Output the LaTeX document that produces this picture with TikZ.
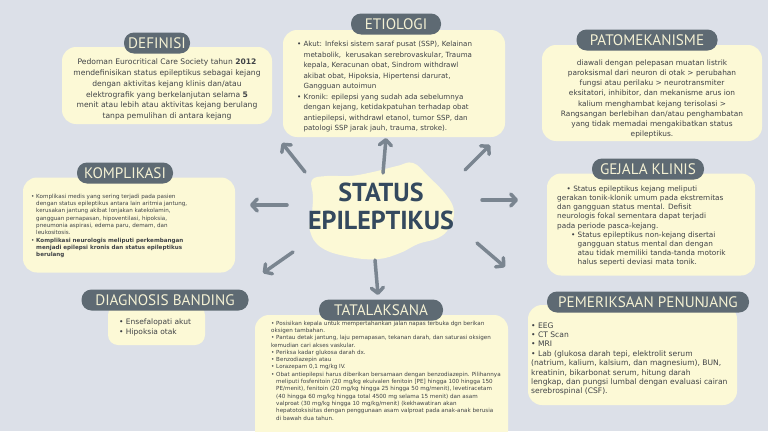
\documentclass[tikz,border=0pt]{standalone}
\usepackage{fontspec}
\usepackage{tikz}
\usetikzlibrary{arrows.meta}
\setmainfont{DejaVu Sans}
\newfontfamily\titlefont{PT Sans}
\definecolor{bgblue}{HTML}{DCE0E8}
\definecolor{boxyellow}{HTML}{FCF9D6}
\definecolor{pillgray}{HTML}{5E6A73}
\definecolor{pilltext}{HTML}{F4F1D4}
\definecolor{inkgray}{HTML}{3F4246}
\definecolor{hubnavy}{HTML}{34495E}
\definecolor{spokegray}{HTML}{7A8590}
\newcommand{\itemdot}{\makebox[0.9em][l]{\textbullet}}
\newcommand{\itemgap}{\hspace*{0.9em}}
\tikzstyle{box}=[rectangle, rounded corners=14pt, fill=boxyellow, inner sep=0pt]
\tikzstyle{pill}=[rectangle, rounded corners=10pt, fill=pillgray, text=pilltext, minimum height=21pt, inner xsep=0pt, font=\titlefont\fontsize{15.2}{15}\selectfont]
\tikzstyle{body}=[text=inkgray, inner sep=0pt]
\tikzstyle{spoke}=[draw=spokegray, line width=3.5pt, line cap=round, -{Straight Barb[length=5.5pt, width=12pt, round]}]

\begin{document}
\begin{tikzpicture}[x=1pt, y=-1pt]
    \fill[bgblue] (0,0) rectangle (768,431);
    \useasboundingbox (0,0) rectangle (768,431);
    \clip (0,0) rectangle (768,431);
    \fill[boxyellow] plot[smooth cycle, tension=0.7] coordinates {
        (312,180) (327,176) (350,176) (373,172) (397,166) (413,163) (428,176)
        (447,196) (454,212) (449,228) (438,238) (418,244) (400,253) (378,259)
        (350,257) (322,248) (310,231) (312,213) (313,196)};
    \node[font=\titlefont\bfseries\fontsize{26}{28}\selectfont, text=hubnavy, align=center] (hub) at (381,206) {STATUS\\EPILEPTIKUS};

    \node[box, minimum width=210pt, minimum height=77pt] (defbox) at (167,85.5) {};
    \node[box, minimum width=222pt, minimum height=107pt] (etiobox) at (394,83.5) {};
    \node[box, minimum width=220pt, minimum height=96pt] (patobox) at (652,93) {};
    \node[box, minimum width=212pt, minimum height=95pt] (kompbox) at (129,225) {};
    \node[box, minimum width=208pt, minimum height=102pt] (gejbox) at (651,224.5) {};
    \node[box, minimum width=97pt, minimum height=40pt, rounded corners=10pt] (diagbox) at (156.5,325) {};
    \node[box, minimum width=253pt, minimum height=130pt] (tatabox) at (381.5,380) {};
    \node[box, minimum width=209pt, minimum height=100pt] (pembox) at (632.5,355) {};

    \node[pill, minimum width=66pt] (defpill) at (157,43) {DEFINISI};
    \node[pill, minimum width=90pt] (etiopill) at (396,24) {ETIOLOGI};
    \node[pill, minimum width=141pt] (patopill) at (647,40) {PATOMEKANISME};
    \node[pill, minimum width=96pt] (komppill) at (125,173) {KOMPLIKASI};
    \node[pill, minimum width=112pt] (gejpill) at (648,169) {GEJALA KLINIS};
    \node[pill, minimum width=167pt] (diagpill) at (165,300) {DIAGNOSIS BANDING};
    \node[pill, minimum width=124pt] (tatapill) at (381,310) {TATALAKSANA};
    \node[pill, minimum width=202pt] (pempill) at (648,302) {PEMERIKSAAN PENUNJANG};

    \node[body, font=\fontsize{7.6}{10.9}\selectfont, align=center] (deftext) at (167,89.5) {
        Pedoman Eurocritical Care Society tahun \textbf{2012}\\
        mendefinisikan status epileptikus sebagai kejang\\
        dengan aktivitas kejang klinis dan/atau\\
        elektrografik yang berkelanjutan selama \textbf{5}\\
        menit atau lebih atau aktivitas kejang berulang\\
        tanpa pemulihan di antara kejang};
    \node[body, font=\fontsize{7.1}{10.5}\selectfont, align=left, anchor=west] (etiotext) at (297,87) {
        \itemdot Akut: Infeksi sistem saraf pusat (SSP), Kelainan\\
        \itemgap metabolik,\ \ kerusakan serebrovaskular, Trauma\\
        \itemgap kepala, Keracunan obat, Sindrom withdrawl\\
        \itemgap akibat obat, Hipoksia, Hipertensi darurat,\\
        \itemgap Gangguan autoimun\\
        \itemdot Kronik: epilepsi yang sudah ada sebelumnya\\
        \itemgap dengan kejang, ketidakpatuhan terhadap obat\\
        \itemgap antiepilepsi, withdrawl etanol, tumor SSP, dan\\
        \itemgap patologi SSP jarak jauh, trauma, stroke).};
    \node[body, font=\fontsize{7.4}{10.2}\selectfont, align=center] (patotext) at (652,99) {
        diawali dengan pelepasan muatan listrik\\
        paroksismal dari neuron di otak > perubahan\\
        fungsi atau perilaku > neurotransmiter\\
        eksitatori, inhibitor, dan mekanisme arus ion\\
        kalium menghambat kejang terisolasi >\\
        Rangsangan berlebihan dan/atau penghambatan\\
        yang tidak memadai mengakibatkan status\\
        epileptikus.};
    \node[body, font=\fontsize{5.6}{7.3}\selectfont, align=left, anchor=west] (komptext) at (31,226) {
        \itemdot Komplikasi medis yang sering terjadi pada pasien\\
        \itemgap dengan status epileptikus antara lain aritmia jantung,\\
        \itemgap kerusakan jantung akibat lonjakan katekolamin,\\
        \itemgap gangguan pernapasan, hipoventilasi, hipoksia,\\
        \itemgap pneumonia aspirasi, edema paru, demam, dan\\
        \itemgap leukositosis.\\
        \itemdot \textbf{Komplikasi neurologis meliputi perkembangan}\\
        \itemgap \textbf{menjadi epilepsi kronis dan status epileptikus}\\
        \itemgap \textbf{berulang}};
    \node[body, font=\fontsize{7.3}{9.1}\selectfont, align=left, anchor=west] (gejtext) at (557,226) {
        \hspace*{1.3em}\itemdot Status epileptikus kejang meliputi\\
        gerakan tonik-klonik umum pada ekstremitas\\
        dan gangguan status mental. Defisit\\
        neurologis fokal sementara dapat terjadi\\
        pada periode pasca-kejang.\\
        \hspace*{1.9em}\itemdot Status epileptikus non-kejang disertai\\
        \hspace*{2.8em}gangguan status mental dan dengan\\
        \hspace*{2.8em}atau tidak memiliki tanda-tanda motorik\\
        \hspace*{2.8em}halus seperti deviasi mata tonik.};
    \node[body, font=\fontsize{7.5}{10}\selectfont, align=left, anchor=west] (diagtext) at (119,327) {
        \itemdot Ensefalopati akut\\
        \itemdot Hipoksia otak};
    \node[body, font=\fontsize{5.6}{7.3}\selectfont, align=left, anchor=west] (tatatext) at (271,370.5) {
        \itemdot Posisikan kepala untuk mempertahankan jalan napas terbuka dgn berikan\\
        oksigen tambahan.\\
        \itemdot Pantau detak jantung, laju pernapasan, tekanan darah, dan saturasi oksigen\\
        kemudian cari akses vaskular.\\
        \itemdot Periksa kadar glukosa darah dx.\\
        \itemdot Benzodiazepin atau\\
        \itemdot Lorazepam 0,1 mg/kg IV.\\
        \itemdot Obat antiepilepsi harus diberikan bersamaan dengan benzodiazepin. Pilihannya\\
        \itemgap meliputi fosfenitoin (20 mg/kg ekuivalen fenitoin [PE] hingga 100 hingga 150\\
        \itemgap PE/menit), fenitoin (20 mg/kg hingga 25 hingga 50 mg/menit), levetiracetam\\
        \itemgap (40 hingga 60 mg/kg hingga total 4500 mg selama 15 menit) dan asam\\
        \itemgap valproat (30 mg/kg hingga 10 mg/kg/menit) (kekhawatiran akan\\
        \itemgap hepatotoksisitas dengan penggunaan asam valproat pada anak-anak berusia\\
        \itemgap di bawah dua tahun.};
    \node[body, font=\fontsize{7.6}{9.4}\selectfont, align=left, anchor=west] (pemtext) at (531,359) {
        \itemdot EEG\\
        \itemdot CT Scan\\
        \itemdot MRI\\
        \itemdot Lab (glukosa darah tepi, elektrolit serum\\
        (natrium, kalium, kalsium, dan magnesium), BUN,\\
        kreatinin, bikarbonat serum, hitung darah\\
        lengkap, dan pungsi lumbal dengan evaluasi cairan\\
        serebrospinal (CSF).};

    \coordinate (etioTail) at (383,173);  \coordinate (etioTip) at (386,138);
    \coordinate (defTail) at (305,172);   \coordinate (defTip) at (282,143);
    \coordinate (patoTail) at (465,170);  \coordinate (patoTip) at (490,145);
    \coordinate (kompTail) at (287,205);  \coordinate (kompTip) at (250,205);
    \coordinate (gejTail) at (482,200);   \coordinate (gejTip) at (518,200);
    \coordinate (diagTail) at (293,252);  \coordinate (diagTip) at (263,273);
    \coordinate (pemTail) at (477,243);   \coordinate (pemTip) at (505,267);
    \coordinate (tataTail) at (375,260);  \coordinate (tataTip) at (378,295);
    \draw[spoke] (etioTail) -- (etioTip);
    \draw[spoke] (defTail) -- (defTip);
    \draw[spoke] (patoTail) -- (patoTip);
    \draw[spoke] (kompTail) -- (kompTip);
    \draw[spoke] (gejTail) -- (gejTip);
    \draw[spoke] (diagTail) -- (diagTip);
    \draw[spoke] (pemTail) -- (pemTip);
    \draw[spoke] (tataTail) -- (tataTip);
\end{tikzpicture}
\end{document}
